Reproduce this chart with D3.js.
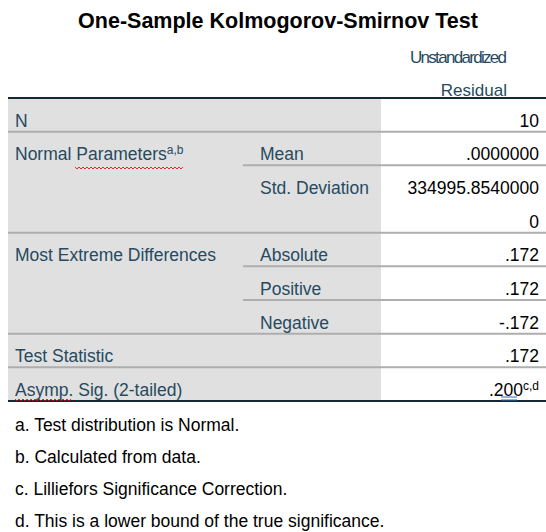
<!DOCTYPE html>
<html><head><meta charset="utf-8">
<script src="https://cdn.jsdelivr.net/npm/d3@7"></script>
<style>body{margin:0;background:#fff}</style></head>
<body><svg id="c" width="546" height="532"></svg>
<script>
const title = "One-Sample Kolmogorov-Smirnov Test";
const header = ["Unstandardized", "Residual"];
const groups = ["N", "Normal Parameters", "Most Extreme Differences", "Test Statistic", "Asymp. Sig. (2-tailed)"];
const groupSup = ["", "a,b", "", "", ""];
const subLabels = ["", "Mean", "Std. Deviation", "", "Absolute", "Positive", "Negative", "", ""];
const rowGroup = [0, 1, 1, 1, 2, 2, 2, 3, 4];
const values = ["10", ".0000000", "334995.8540000", "0", ".172", ".172", "-.172", ".172", ".200"];
const valueSup = ["", "", "", "", "", "", "", "", "c,d"];
const footnotes = ["a. Test distribution is Normal.", "b. Calculated from data.", "c. Lilliefors Significance Correction.", "d. This is a lower bound of the true significance."];

const svg = d3.select("#c");
const F = "Liberation Sans, Arial, sans-serif";
const FS = 17.5;
const y = d3.scaleLinear().domain([0, values.length]).range([98, 401]);
const rh = y(1) - y(0);
const x0 = 8, xSub = 243, xVal = 381, xEnd = 546;

svg.append("text").attr("x", 278).attr("y", 28).attr("text-anchor", "middle")
  .attr("font-family", F).attr("font-size", 21.5).attr("font-weight", "bold").text(title);
header.forEach((h, i) => svg.append("text").attr("x", 507).attr("y", 63 + i * 33)
  .attr("text-anchor", "end").attr("font-family", F).attr("font-size", 17).attr("fill", "#264a60")
  .attr("textLength", i === 0 ? 97 : null).text(h));

svg.append("rect").attr("x", x0).attr("y", y(0)).attr("width", xVal - x0).attr("height", y(values.length) - y(0)).attr("fill", "#e0e0e0");

for (let i = 1; i < values.length; i++) {
  const newGroup = rowGroup[i] !== rowGroup[i - 1];
  if (!newGroup && subLabels[i] === "") continue;
  svg.append("line").attr("x1", newGroup ? x0 : xSub).attr("x2", xEnd)
    .attr("y1", y(i)).attr("y2", y(i)).attr("stroke", "#aeaeae").attr("stroke-width", 2);
}
[0, values.length].forEach(i => svg.append("line").attr("x1", x0).attr("x2", xEnd)
  .attr("y1", y(i)).attr("y2", y(i)).attr("stroke", "#152935").attr("stroke-width", 2));

const wave = (xa, xb, yy, col) => {
  let d = `M${xa},${yy}`;
  for (let xx = xa, k = 0; xx < xb; xx += 2, k++) d += `L${xx + 2},${yy + (k % 2 ? 0 : 2)}`;
  svg.append("path").attr("d", d).attr("fill", "none").attr("stroke", col).attr("stroke-width", 0.8);
};

const ty = i => y(i) + rh - 5;
let seen = new Set();
rowGroup.forEach((g, i) => {
  if (!seen.has(g)) {
    seen.add(g);
    const t = svg.append("text").attr("x", 15).attr("y", ty(i)).attr("font-family", F).attr("font-size", FS).attr("fill", "#264a60");
    t.append("tspan").text(groups[g]);
    if (groupSup[g]) t.append("tspan").attr("font-size", 12).attr("dy", -6).text(groupSup[g]);
  }
  if (subLabels[i]) svg.append("text").attr("x", 260).attr("y", ty(i)).attr("font-family", F).attr("font-size", FS).attr("fill", "#264a60").text(subLabels[i]);
  const vt = svg.append("text").attr("x", 539).attr("y", ty(i)).attr("text-anchor", "end").attr("font-family", F).attr("font-size", FS).attr("fill", "#000");
  vt.append("tspan").text(values[i]);
  if (valueSup[i]) vt.append("tspan").attr("font-size", 12).attr("dy", -6).text(valueSup[i]);
});
wave(75, 182, 167, "#d00");
wave(15, 70, 399, "#d00");
svg.append("line").attr("x1", 501).attr("x2", 517).attr("y1", 397).attr("y2", 397).attr("stroke", "#36c").attr("stroke-width", 1);
svg.append("line").attr("x1", 501).attr("x2", 517).attr("y1", 400).attr("y2", 400).attr("stroke", "#36c").attr("stroke-width", 1);

footnotes.forEach((f, i) => svg.append("text").attr("x", 15).attr("y", 431 + i * 32)
  .attr("font-family", F).attr("font-size", FS).attr("fill", "#000").text(f));
</script></body></html>
